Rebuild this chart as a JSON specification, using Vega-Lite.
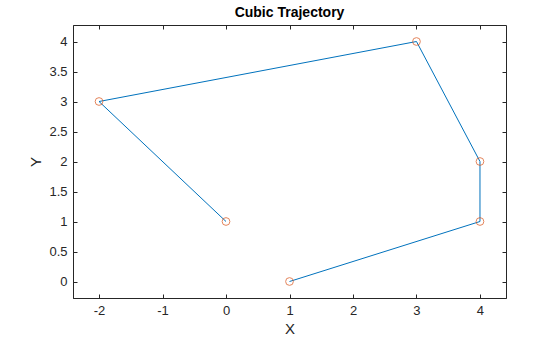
{
  "$schema": "https://vega.github.io/schema/vega-lite/v6.json",
  "width": 433,
  "height": 273,
  "autosize": {"type": "none"},
  "padding": {"left": 73, "top": 25, "right": 54, "bottom": 39},
  "background": "white",
  "title": {"text": "Cubic Trajectory", "font": "Liberation Sans", "fontSize": 14, "fontWeight": "bold", "color": "#000000", "offset": 5, "anchor": "middle"},
  "config": {
    "view": {"stroke": "#262626", "strokeWidth": 1},
    "axis": {"grid": false, "domainColor": "#262626", "tickColor": "#262626", "labelColor": "#262626", "titleColor": "#262626", "labelFont": "Liberation Sans", "titleFont": "Liberation Sans", "labelFontSize": 13, "titleFontSize": 15, "titleFontWeight": "normal", "tickSize": -4, "labelPadding": 10, "labelExpr": "toString(datum.value)"}
  },
  "data": {"values": [
    {"i": 1, "x": 0, "y": 1},
    {"i": 2, "x": -2, "y": 3},
    {"i": 3, "x": 3, "y": 4},
    {"i": 4, "x": 4, "y": 2},
    {"i": 5, "x": 4, "y": 1},
    {"i": 6, "x": 1, "y": 0}
  ]},
  "layer": [
    {
      "mark": {"type": "line", "color": "#0072BD", "strokeWidth": 1},
      "encoding": {
        "x": {"field": "x", "type": "quantitative", "scale": {"domain": [-2.41, 4.41], "nice": false, "zero": false}, "axis": {"title": "X", "values": [-2, -1, 0, 1, 2, 3, 4], "orient": "bottom", "titlePadding": 4}},
        "y": {"field": "y", "type": "quantitative", "scale": {"domain": [-0.275, 4.275], "nice": false, "zero": false}, "axis": {"title": "Y", "values": [0, 0.5, 1, 1.5, 2, 2.5, 3, 3.5, 4], "orient": "left", "titlePadding": 5}},
        "order": {"field": "i", "type": "quantitative"}
      }
    },
    {
      "mark": {"type": "point", "shape": "circle", "filled": false, "color": "#D95319", "size": 60, "strokeWidth": 1},
      "encoding": {
        "x": {"field": "x", "type": "quantitative", "axis": {"title": null, "labels": false, "values": [-2, -1, 0, 1, 2, 3, 4], "orient": "top", "domain": false}},
        "y": {"field": "y", "type": "quantitative", "axis": {"title": null, "labels": false, "values": [0, 0.5, 1, 1.5, 2, 2.5, 3, 3.5, 4], "orient": "right", "domain": false}}
      }
    }
  ],
  "resolve": {"axis": {"x": "independent", "y": "independent"}}
}
